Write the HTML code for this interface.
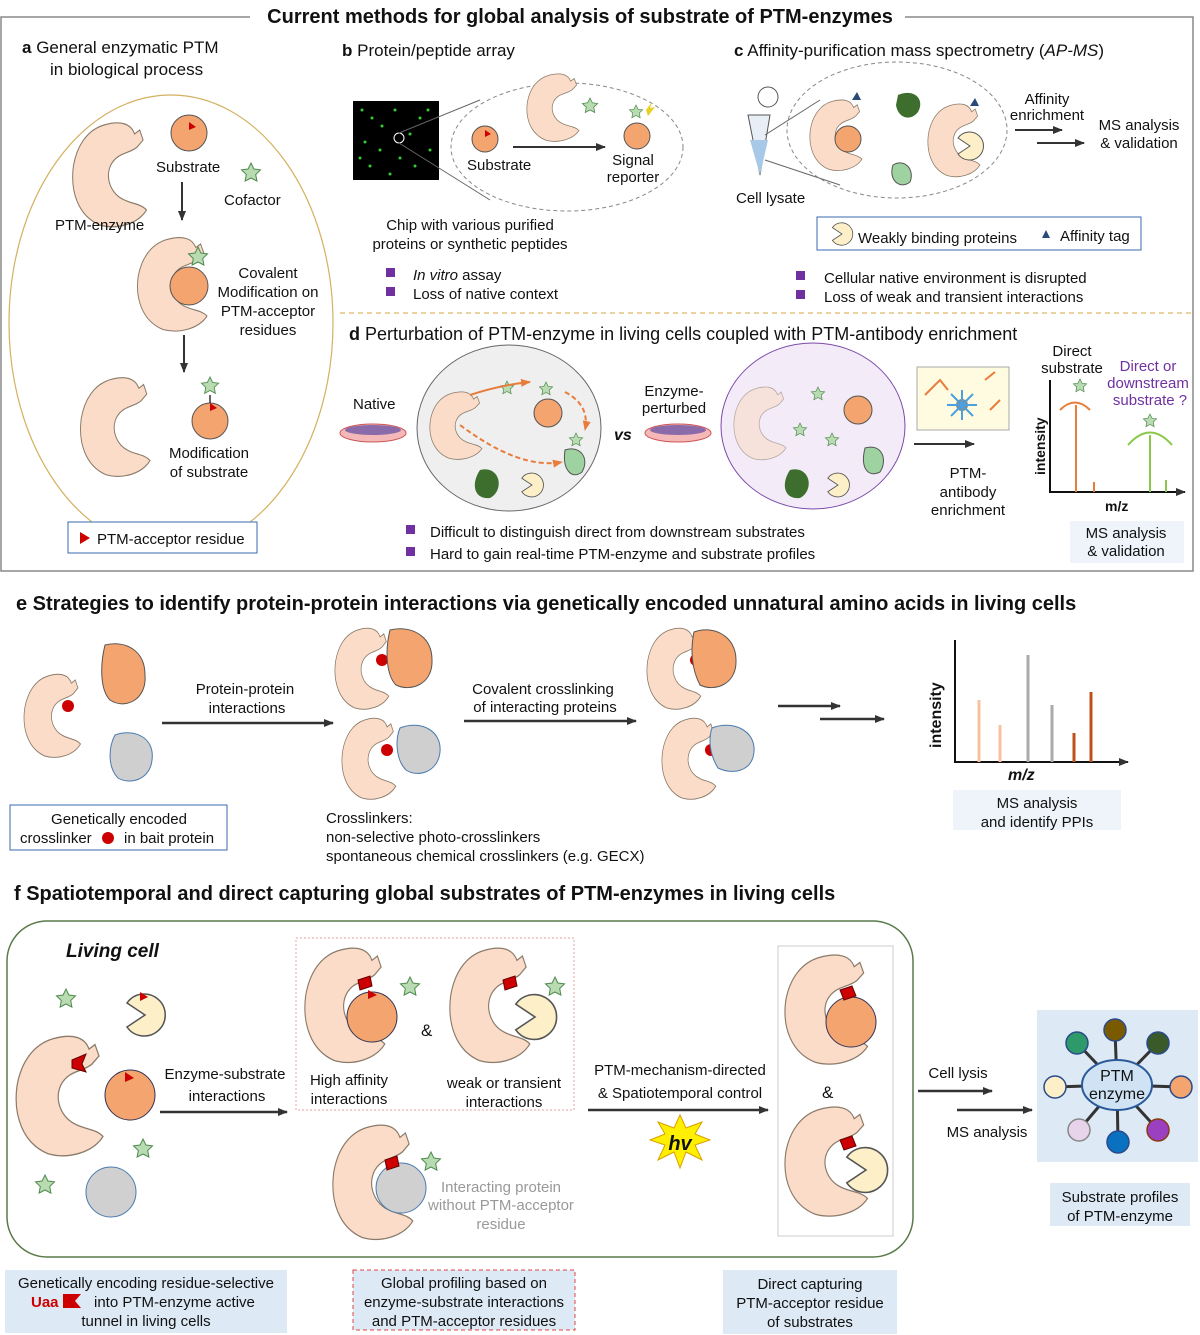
<!DOCTYPE html>
<html><head><meta charset="utf-8"><style>
html,body{margin:0;padding:0;background:#fff}
svg{display:block}
text{font-family:"Liberation Sans",Arial,sans-serif;fill:#111}
.b{font-weight:bold}
</style></head><body>
<svg width="1200" height="1335" viewBox="0 0 1200 1335" xmlns="http://www.w3.org/2000/svg">
<defs>
<path id="enz" d="M40,5 C60,0 72,4 76,14 L82,10 86,20 79,27 C70,34 56,32 48,45 C41,58 48,74 64,80 C74,84 84,84 90,90 C80,104 55,110 35,105 C10,96 0,72 4,46 C8,26 20,10 40,5 Z" fill="#fadcc8" stroke="#8a7a68" stroke-width="1.2"/>
<path id="star" d="M0,-10 L2.9,-4 9.5,-3.1 4.7,1.5 5.9,8.1 0,5 -5.9,8.1 -4.7,1.5 -9.5,-3.1 -2.9,-4 Z" fill="#b9dbb2" stroke="#4f8a4f" stroke-width="1"/>
<path id="pac" d="M0,0 L12,-8 A14,14 0 1 0 12,8 Z" fill="#fdf0c8" stroke="#555" stroke-width="1"/>
<marker id="ar" markerUnits="userSpaceOnUse" markerWidth="10" markerHeight="8" refX="9" refY="4" orient="auto"><path d="M0,0 L10,4 0,8 Z" fill="#333"/></marker>
<marker id="aro" markerUnits="userSpaceOnUse" markerWidth="10" markerHeight="8" refX="9" refY="4" orient="auto"><path d="M0,0 L10,4 0,8 Z" fill="#e87c3a"/></marker>
</defs>

<!-- top frame -->
<rect x="1" y="17" width="1192" height="554" fill="none" stroke="#888" stroke-width="1.5"/>
<rect x="250" y="5" width="655" height="24" fill="#fff"/>
<text x="580" y="23" text-anchor="middle" font-size="20" class="b">Current methods for global analysis of substrate of PTM-enzymes</text>
<line x1="340" y1="313" x2="1193" y2="313" stroke="#d9a640" stroke-dasharray="5,4"/>

<!-- panel a -->
<text x="22" y="53" font-size="17"><tspan class="b">a</tspan>  General enzymatic PTM</text>
<text x="50" y="75" font-size="17">in biological process</text>
<ellipse cx="171" cy="323" rx="162" ry="228" fill="none" stroke="#d4b060" stroke-width="1.2"/>
<use href="#enz" transform="translate(70,120) scale(0.85,1)"/>
<circle cx="189" cy="133" r="18" fill="#f4a46e" stroke="#555"/><path d="M189,122 l7,5 -7,3z" fill="#c00"/>
<text x="156" y="172" font-size="15">Substrate</text>
<use href="#star" transform="translate(251,173)"/>
<text x="224" y="205" font-size="15">Cofactor</text>
<text x="55" y="230" font-size="15">PTM-enzyme</text>
<line x1="182" y1="182" x2="182" y2="220" stroke="#333" stroke-width="2" marker-end="url(#ar)"/>
<use href="#enz" transform="translate(135,235) scale(0.8,0.9)"/>
<circle cx="189" cy="286" r="19" fill="#f4a46e" stroke="#555"/>
<use href="#star" transform="translate(198,257)"/>
<text x="268" y="278" font-size="15" text-anchor="middle">Covalent</text>
<text x="268" y="297" font-size="15" text-anchor="middle">Modification on</text>
<text x="268" y="316" font-size="15" text-anchor="middle">PTM-acceptor</text>
<text x="268" y="335" font-size="15" text-anchor="middle">residues</text>
<line x1="184" y1="335" x2="184" y2="372" stroke="#333" stroke-width="2" marker-end="url(#ar)"/>
<use href="#enz" transform="translate(78,375) scale(0.8,0.95)"/>
<circle cx="210" cy="421" r="18" fill="#f4a46e" stroke="#555"/>
<line x1="210" y1="395" x2="210" y2="403" stroke="#333" stroke-width="1.5"/><use href="#star" transform="translate(210,386) scale(0.9)"/>
<path d="M210,403 l7,5 -7,3z" fill="#c00"/>
<text x="209" y="458" font-size="15" text-anchor="middle">Modification</text>
<text x="209" y="477" font-size="15" text-anchor="middle">of substrate</text>
<rect x="68" y="522" width="189" height="31" fill="#fff" stroke="#3a6ab0"/>
<path d="M80,532 l10,6 -10,6z" fill="#c00"/>
<text x="97" y="544" font-size="15">PTM-acceptor residue</text>

<!-- panel b -->
<text x="342" y="56" font-size="17"><tspan class="b">b</tspan>  Protein/peptide array</text>
<rect x="353" y="101" width="86" height="79" fill="#000"/>
<g fill="#3c3">
<circle cx="362" cy="110" r="1.5"/><circle cx="372" cy="118" r="1.5"/><circle cx="382" cy="126" r="1.5"/><circle cx="395" cy="110" r="1.5"/><circle cx="410" cy="134" r="1.5"/><circle cx="420" cy="118" r="1.5"/><circle cx="365" cy="142" r="1.5"/><circle cx="380" cy="150" r="1.5"/><circle cx="400" cy="158" r="1.5"/><circle cx="415" cy="166" r="1.5"/><circle cx="430" cy="150" r="1.5"/><circle cx="370" cy="166" r="1.5"/><circle cx="390" cy="174" r="1.5"/><circle cx="428" cy="110" r="1.5"/><circle cx="360" cy="158" r="1.5"/>
</g>
<circle cx="399" cy="138" r="5" fill="none" stroke="#fff"/>
<line x1="399" y1="133" x2="480" y2="100" stroke="#666"/><line x1="399" y1="143" x2="490" y2="200" stroke="#666"/>
<ellipse cx="567" cy="147" rx="116" ry="64" fill="none" stroke="#888" stroke-dasharray="4,3"/>
<use href="#enz" transform="translate(525,72) scale(0.6,0.65)"/>
<use href="#star" transform="translate(590,106) scale(0.8)" style="fill:#2a9a5a"/>
<circle cx="485" cy="139" r="13" fill="#f4a46e" stroke="#555"/><path d="M485,130 l6,4 -6,3z" fill="#c00"/>
<text x="467" y="170" font-size="15">Substrate</text>
<line x1="513" y1="147" x2="605" y2="147" stroke="#333" stroke-width="2" marker-end="url(#ar)"/>
<circle cx="637" cy="136" r="13" fill="#f4a46e" stroke="#555"/><use href="#star" transform="translate(636,112) scale(0.7)"/>
<path d="M646,110 l6,-8 -2,6 5,-1 -7,9z" fill="#e8d020"/>
<text x="633" y="165" font-size="15" text-anchor="middle">Signal</text>
<text x="633" y="182" font-size="15" text-anchor="middle">reporter</text>
<text x="470" y="230" font-size="15" text-anchor="middle">Chip with various purified</text>
<text x="470" y="249" font-size="15" text-anchor="middle">proteins or synthetic peptides</text>
<rect x="386" y="268" width="9" height="9" fill="#7030a0"/><text x="413" y="280" font-size="15"><tspan font-style="italic">In vitro</tspan> assay</text>
<rect x="386" y="287" width="9" height="9" fill="#7030a0"/><text x="413" y="299" font-size="15">Loss of native context</text>

<!-- panel c -->
<text x="734" y="56" font-size="17"><tspan class="b">c</tspan>  Affinity-purification mass spectrometry (<tspan font-style="italic">AP-MS</tspan>)</text>
<path d="M748,115 L770,115 L760,175 Z" fill="#e8eef5" stroke="#555"/>
<path d="M750,140 L768,140 L760,175 Z" fill="#a8c8e8"/>
<circle cx="768" cy="97" r="10" fill="#fff" stroke="#555"/>
<text x="736" y="203" font-size="15">Cell lysate</text>
<line x1="765" y1="135" x2="820" y2="100" stroke="#666"/><line x1="765" y1="160" x2="840" y2="185" stroke="#666"/>
<ellipse cx="897" cy="130" rx="110" ry="68" fill="none" stroke="#888" stroke-dasharray="4,3"/>
<use href="#enz" transform="translate(808,98) scale(0.6,0.68)"/>
<circle cx="848" cy="139" r="13" fill="#f4a46e" stroke="#555"/>
<path d="M898,95 C915,88 925,100 918,112 C910,122 898,118 896,105Z" fill="#3d6e2e"/>
<use href="#enz" transform="translate(926,102) scale(0.6,0.7)"/>
<g transform="translate(970,146) rotate(180)"><use href="#pac"/></g>
<path d="M893,165 C905,158 915,170 910,182 C900,190 888,180 893,165Z" fill="#9ed2a0" stroke="#555"/>
<path d="M852,100 l5,-8 4,8z" fill="#2a4a7a"/><path d="M970,106 l5,-8 4,8z" fill="#2a4a7a"/>
<text x="1047" y="104" font-size="15" text-anchor="middle">Affinity</text>
<text x="1047" y="120" font-size="15" text-anchor="middle">enrichment</text>
<line x1="1015" y1="130" x2="1062" y2="130" stroke="#333" stroke-width="2" marker-end="url(#ar)"/>
<line x1="1037" y1="143" x2="1084" y2="143" stroke="#333" stroke-width="2" marker-end="url(#ar)"/>
<text x="1139" y="130" font-size="15" text-anchor="middle">MS analysis</text>
<text x="1139" y="148" font-size="15" text-anchor="middle">&amp; validation</text>
<rect x="817" y="217" width="324" height="33" fill="#fff" stroke="#3a6ab0"/>
<g transform="translate(842,234) rotate(180) scale(0.8)"><use href="#pac"/></g>
<text x="858" y="243" font-size="15">Weakly binding proteins</text>
<path d="M1042,238 l4,-8 4,8z" fill="#2a4a7a"/>
<text x="1060" y="241" font-size="15">Affinity tag</text>
<rect x="796" y="271" width="9" height="9" fill="#7030a0"/><text x="824" y="283" font-size="15">Cellular native environment is disrupted</text>
<rect x="796" y="290" width="9" height="9" fill="#7030a0"/><text x="824" y="302" font-size="15">Loss of weak and transient interactions</text>

<!-- panel d -->
<text x="349" y="340" font-size="18"><tspan class="b">d</tspan>  Perturbation of PTM-enzyme in living cells coupled with PTM-antibody enrichment</text>
<text x="353" y="409" font-size="15">Native</text>
<ellipse cx="373" cy="433" rx="33" ry="9" fill="#f4b8b8" stroke="#c55"/>
<ellipse cx="373" cy="430" rx="28" ry="5" fill="#8a6aa8"/>
<ellipse cx="509" cy="428" rx="92" ry="83" fill="#efefef" stroke="#666"/>
<use href="#enz" transform="translate(428,390) scale(0.6,0.65)"/>
<circle cx="548" cy="413" r="14" fill="#f4a46e" stroke="#555"/><use href="#star" transform="translate(546,389) scale(0.7)"/>
<use href="#star" transform="translate(507,388) scale(0.7)"/>
<path d="M470,395 Q500,385 530,382" stroke="#e87c3a" stroke-width="2" fill="none" marker-end="url(#aro)"/>
<path d="M460,425 Q520,470 562,462" stroke="#e87c3a" stroke-width="2" fill="none" stroke-dasharray="5,3" marker-end="url(#aro)"/>
<path d="M565,392 Q590,405 585,430" stroke="#e87c3a" stroke-width="2" fill="none" stroke-dasharray="5,3" marker-end="url(#aro)"/>
<path d="M565,450 C580,445 590,458 582,472 C572,480 562,470 565,450Z" fill="#9ed2a0" stroke="#555"/>
<use href="#star" transform="translate(576,440) scale(0.7)"/>
<path d="M480,470 C500,465 505,490 490,498 C475,500 470,485 480,470Z" fill="#3d6e2e"/>
<g transform="translate(532,485) rotate(180) scale(0.85)"><use href="#pac"/></g>
<text x="614" y="440" font-size="16" class="b" font-style="italic">vs</text>
<text x="674" y="396" font-size="15" text-anchor="middle">Enzyme-</text>
<text x="674" y="413" font-size="15" text-anchor="middle">perturbed</text>
<ellipse cx="678" cy="433" rx="33" ry="9" fill="#f4b8b8" stroke="#c55"/>
<ellipse cx="678" cy="430" rx="28" ry="5" fill="#8a6aa8"/>
<ellipse cx="813" cy="426" rx="92" ry="83" fill="#f3ebf8" stroke="#7a4aa8"/>
<use href="#enz" transform="translate(732,385) scale(0.6,0.7)" opacity="0.6"/>
<circle cx="858" cy="410" r="14" fill="#f4a46e" stroke="#555"/>
<use href="#star" transform="translate(818,394) scale(0.7)"/><use href="#star" transform="translate(800,430) scale(0.7)"/><use href="#star" transform="translate(832,440) scale(0.7)"/>
<path d="M865,448 C882,443 888,460 880,472 C868,478 860,468 865,448Z" fill="#9ed2a0" stroke="#555"/>
<path d="M790,470 C810,465 815,490 800,498 C785,500 780,485 790,470Z" fill="#3d6e2e"/>
<g transform="translate(838,485) rotate(180) scale(0.85)"><use href="#pac"/></g>
<rect x="917" y="367" width="92" height="63" fill="#fffbe0" stroke="#aaa"/>
<path d="M925,395 L940,380 L948,390 M985,380 L995,372 M1000,400 L990,410" stroke="#e87c3a" stroke-width="2" fill="none"/>
<circle cx="962" cy="405" r="6" fill="#888"/><path d="M962,390 V420 M947,405 H977 M951,394 L973,416 M973,394 L951,416" stroke="#4aa0e0" stroke-width="2"/>
<line x1="914" y1="444" x2="974" y2="444" stroke="#333" stroke-width="2" marker-end="url(#ar)"/>
<text x="968" y="478" font-size="15" text-anchor="middle">PTM-</text>
<text x="968" y="497" font-size="15" text-anchor="middle">antibody</text>
<text x="968" y="515" font-size="15" text-anchor="middle">enrichment</text>
<text x="1072" y="356" font-size="15" text-anchor="middle">Direct</text>
<text x="1072" y="373" font-size="15" text-anchor="middle">substrate</text>
<text x="1148" y="371" font-size="15" text-anchor="middle" style="fill:#7030a0">Direct or</text>
<text x="1148" y="388" font-size="15" text-anchor="middle" style="fill:#7030a0">downstream</text>
<text x="1150" y="405" font-size="15" text-anchor="middle" style="fill:#7030a0">substrate ?</text>
<path d="M1050,380 V492 H1185" stroke="#111" stroke-width="2" fill="none" marker-end="url(#ar)"/>
<text transform="translate(1045,475) rotate(-90)" font-size="14" class="b">intensity</text>
<text x="1105" y="511" font-size="14" class="b">m/z</text>
<path d="M1060,410 Q1075,395 1090,410" stroke="#e87c3a" stroke-width="2" fill="none"/>
<use href="#star" transform="translate(1080,386) scale(0.7)"/>
<line x1="1076" y1="405" x2="1076" y2="492" stroke="#e87c3a" stroke-width="2"/>
<line x1="1094" y1="482" x2="1094" y2="492" stroke="#e87c3a" stroke-width="2"/>
<path d="M1128,445 Q1150,420 1172,445" stroke="#8ac84a" stroke-width="2" fill="none"/>
<use href="#star" transform="translate(1150,421) scale(0.7)"/>
<line x1="1150" y1="435" x2="1150" y2="492" stroke="#8ac84a" stroke-width="2"/>
<line x1="1166" y1="480" x2="1166" y2="492" stroke="#8ac84a" stroke-width="2"/>
<rect x="1070" y="521" width="114" height="42" fill="#eef4fa"/>
<text x="1126" y="538" font-size="15" text-anchor="middle">MS analysis</text>
<text x="1126" y="556" font-size="15" text-anchor="middle">&amp; validation</text>
<rect x="406" y="525" width="9" height="9" fill="#7030a0"/><text x="430" y="537" font-size="15">Difficult to distinguish direct from downstream substrates</text>
<rect x="406" y="547" width="9" height="9" fill="#7030a0"/><text x="430" y="559" font-size="15">Hard to gain real-time PTM-enzyme and substrate profiles</text>

<!-- panel e -->
<text x="16" y="610" font-size="20" class="b">e  Strategies to identify protein-protein interactions via genetically encoded unnatural amino acids in living cells</text>
<use href="#enz" transform="translate(22,672) scale(0.65,0.8)"/>
<circle cx="68" cy="706" r="6" fill="#c00"/>
<path d="M105,645 C125,640 145,650 145,675 C147,700 125,710 110,700 C100,690 100,665 105,645Z" fill="#f4a46e" stroke="#555"/>
<path d="M115,735 C135,728 155,738 152,760 C150,780 130,785 118,778 C108,768 108,748 115,735Z" fill="#cfcfcf" stroke="#4a7ab0"/>
<text x="245" y="694" font-size="15" text-anchor="middle">Protein-protein</text>
<text x="247" y="713" font-size="15" text-anchor="middle">interactions</text>
<line x1="162" y1="723" x2="333" y2="723" stroke="#333" stroke-width="2.5" marker-end="url(#ar)"/>
<use href="#enz" transform="translate(333,626) scale(0.62,0.78)"/>
<circle cx="382" cy="660" r="6" fill="#c00"/>
<path d="M390,630 C410,625 432,635 432,660 C433,685 410,692 396,685 C386,675 385,650 390,630Z" fill="#f4a46e" stroke="#555"/>
<use href="#enz" transform="translate(340,716) scale(0.62,0.78)"/>
<circle cx="387" cy="750" r="6" fill="#c00"/>
<path d="M400,728 C420,720 442,730 440,752 C438,772 418,778 406,770 C396,760 395,740 400,728Z" fill="#cfcfcf" stroke="#4a7ab0"/>
<text x="543" y="694" font-size="15" text-anchor="middle">Covalent crosslinking</text>
<text x="545" y="712" font-size="15" text-anchor="middle">of interacting proteins</text>
<line x1="464" y1="721" x2="636" y2="721" stroke="#333" stroke-width="2.5" marker-end="url(#ar)"/>
<use href="#enz" transform="translate(645,626) scale(0.62,0.78)"/>
<circle cx="696" cy="660" r="6" fill="#c00"/>
<path d="M694,632 C712,625 736,635 736,660 C737,685 714,692 700,685 C692,670 690,650 694,632Z" fill="#f4a46e" stroke="#555"/>
<use href="#enz" transform="translate(660,716) scale(0.62,0.78)"/>
<circle cx="711" cy="750" r="6" fill="#c00"/>
<path d="M712,728 C732,720 756,730 754,752 C752,772 732,775 718,768 C710,755 708,740 712,728Z" fill="#cfcfcf" stroke="#4a7ab0"/>
<line x1="778" y1="706" x2="840" y2="706" stroke="#333" stroke-width="2.5" marker-end="url(#ar)"/>
<line x1="820" y1="719" x2="884" y2="719" stroke="#333" stroke-width="2.5" marker-end="url(#ar)"/>
<path d="M955,640 V762 H1128" stroke="#111" stroke-width="2" fill="none" marker-end="url(#ar)"/>
<text transform="translate(941,748) rotate(-90)" font-size="16" class="b">intensity</text>
<text x="1008" y="780" font-size="16" class="b" font-style="italic">m/z</text>
<g stroke-width="3"><line x1="979" y1="700" x2="979" y2="762" stroke="#f8c0a0"/><line x1="1000" y1="725" x2="1000" y2="762" stroke="#f8c0a0"/><line x1="1028" y1="655" x2="1028" y2="762" stroke="#aaa"/><line x1="1052" y1="705" x2="1052" y2="762" stroke="#aaa"/><line x1="1074" y1="733" x2="1074" y2="762" stroke="#c0501a"/><line x1="1091" y1="692" x2="1091" y2="762" stroke="#c0501a"/></g>
<rect x="953" y="790" width="168" height="40" fill="#eef4fa"/>
<text x="1037" y="808" font-size="15" text-anchor="middle">MS analysis</text>
<text x="1037" y="827" font-size="15" text-anchor="middle">and identify PPIs</text>
<rect x="10" y="805" width="217" height="45" fill="#fff" stroke="#3a6ab0"/>
<text x="119" y="824" font-size="15" text-anchor="middle">Genetically encoded</text>
<text x="20" y="843" font-size="15">crosslinker</text><circle cx="108" cy="838" r="6" fill="#c00"/><text x="124" y="843" font-size="15">in bait protein</text>
<text x="326" y="823" font-size="15">Crosslinkers:</text>
<text x="326" y="842" font-size="15">non-selective photo-crosslinkers</text>
<text x="326" y="861" font-size="15">spontaneous chemical crosslinkers (e.g. GECX)</text>

<!-- panel f -->
<text x="14" y="900" font-size="20" class="b">f  Spatiotemporal and direct capturing global substrates of PTM-enzymes in living cells</text>
<rect x="7" y="921" width="906" height="336" rx="40" fill="none" stroke="#5a7a4a" stroke-width="1.5"/>
<text x="66" y="957" font-size="19" class="b" font-style="italic">Living cell</text>
<use href="#star" transform="translate(66,999)"/><use href="#star" transform="translate(143,1149)"/><use href="#star" transform="translate(45,1185)"/>
<g transform="translate(145,1015) rotate(180) scale(1.5)"><use href="#pac"/></g><path d="M140,992 l8,5 -8,4z" fill="#c00"/>
<use href="#enz" transform="translate(13,1033) scale(1,1.15)"/>
<path d="M72,1060 l14,-6 -4,10 4,8 -14,-4z" fill="#c00" stroke="#600"/>
<circle cx="130" cy="1095" r="25" fill="#f4a46e" stroke="#335"/><path d="M125,1072 l9,6 -9,4z" fill="#c00"/>
<circle cx="111" cy="1192" r="25" fill="#d0d0d0" stroke="#4a7ab0"/>
<text x="225" y="1079" font-size="15" text-anchor="middle">Enzyme-substrate</text>
<text x="227" y="1101" font-size="15" text-anchor="middle">interactions</text>
<line x1="160" y1="1112" x2="287" y2="1112" stroke="#333" stroke-width="2.5" marker-end="url(#ar)"/>
<rect x="296" y="938" width="278" height="172" fill="none" stroke="#e8a0a0" stroke-dasharray="2,2"/>
<use href="#enz" transform="translate(302,945) scale(0.92,1.1)"/>
<circle cx="372" cy="1017" r="25" fill="#f4a46e" stroke="#335"/>
<path d="M358,980 l12,-4 2,10 -12,4z" fill="#c00" stroke="#600"/><path d="M368,990 l9,5 -9,4z" fill="#c00"/>
<use href="#star" transform="translate(410,987)"/>
<text x="421" y="1036" font-size="17">&amp;</text>
<use href="#enz" transform="translate(447,945) scale(0.92,1.1)"/>
<g transform="translate(535,1017) rotate(180) scale(1.6)"><use href="#pac"/></g>
<path d="M503,980 l12,-4 2,10 -12,4z" fill="#c00" stroke="#600"/>
<use href="#star" transform="translate(555,987)"/>
<text x="349" y="1085" font-size="15" text-anchor="middle">High affinity</text>
<text x="349" y="1104" font-size="15" text-anchor="middle">interactions</text>
<text x="504" y="1088" font-size="15" text-anchor="middle">weak or transient</text>
<text x="504" y="1107" font-size="15" text-anchor="middle">interactions</text>
<use href="#enz" transform="translate(330,1122) scale(0.92,1.1)"/>
<circle cx="401" cy="1188" r="25" fill="#d0d0d0" stroke="#4a7ab0"/>
<path d="M385,1160 l12,-4 2,10 -12,4z" fill="#c00" stroke="#600"/>
<use href="#star" transform="translate(431,1162)"/>
<text x="501" y="1192" font-size="15" text-anchor="middle" style="fill:#999">Interacting protein</text>
<text x="501" y="1210" font-size="15" text-anchor="middle" style="fill:#999">without PTM-acceptor</text>
<text x="501" y="1229" font-size="15" text-anchor="middle" style="fill:#999">residue</text>
<text x="680" y="1075" font-size="15" text-anchor="middle">PTM-mechanism-directed</text>
<text x="680" y="1098" font-size="15" text-anchor="middle">&amp; Spatiotemporal control</text>
<line x1="588" y1="1110" x2="768" y2="1110" stroke="#333" stroke-width="2.5" marker-end="url(#ar)"/>
<path d="M680,1115 L686,1128 702,1122 695,1134 710,1140 695,1145 702,1160 686,1152 680,1168 674,1152 658,1160 665,1145 650,1140 665,1134 658,1122 674,1128Z" fill="#ffef00" stroke="#d9a000"/>
<text x="680" y="1150" font-size="20" class="b" font-style="italic" text-anchor="middle">hv</text>
<rect x="778" y="946" width="115" height="290" fill="none" stroke="#ccc"/>
<use href="#enz" transform="translate(782,952) scale(0.95,1.05)"/>
<circle cx="851" cy="1022" r="25" fill="#f4a46e" stroke="#335"/>
<path d="M840,990 l12,-4 4,10 -12,4z" fill="#c00" stroke="#600"/>
<text x="822" y="1098" font-size="17">&amp;</text>
<use href="#enz" transform="translate(782,1104) scale(0.95,1.05)"/>
<g transform="translate(866,1170) rotate(180) scale(1.6)"><use href="#pac"/></g>
<path d="M840,1140 l12,-4 4,10 -12,4z" fill="#c00" stroke="#600"/>
<text x="958" y="1078" font-size="15" text-anchor="middle">Cell lysis</text>
<line x1="918" y1="1091" x2="992" y2="1091" stroke="#333" stroke-width="2.5" marker-end="url(#ar)"/>
<line x1="957" y1="1110" x2="1032" y2="1110" stroke="#333" stroke-width="2.5" marker-end="url(#ar)"/>
<text x="987" y="1137" font-size="15" text-anchor="middle">MS analysis</text>
<rect x="1037" y="1010" width="161" height="152" fill="#dde9f5"/>
<g stroke="#333" stroke-width="3">
<line x1="1117" y1="1085" x2="1115" y2="1030"/><line x1="1117" y1="1085" x2="1077" y2="1043"/><line x1="1117" y1="1085" x2="1158" y2="1043"/><line x1="1117" y1="1085" x2="1055" y2="1087"/><line x1="1117" y1="1085" x2="1181" y2="1087"/><line x1="1117" y1="1085" x2="1079" y2="1130"/><line x1="1117" y1="1085" x2="1118" y2="1142"/><line x1="1117" y1="1085" x2="1158" y2="1130"/>
</g>
<g stroke="#2a4a8a" stroke-width="1.5">
<circle cx="1115" cy="1030" r="11" fill="#7a5a00"/><circle cx="1077" cy="1043" r="11" fill="#2e9a6a"/><circle cx="1158" cy="1043" r="11" fill="#3a5a2a"/><circle cx="1055" cy="1087" r="11" fill="#fdf0c8"/><circle cx="1181" cy="1087" r="11" fill="#f4a46e"/><circle cx="1079" cy="1130" r="11" fill="#e8d4ea" stroke="#888"/><circle cx="1118" cy="1142" r="11" fill="#0a70c0"/><circle cx="1158" cy="1130" r="11" fill="#9a40c0" stroke="#8a3a10"/>
</g>
<ellipse cx="1117" cy="1085" rx="35" ry="25" fill="#cfe3f5" stroke="#2a5a9a" stroke-width="2"/>
<text x="1117" y="1081" font-size="16" text-anchor="middle">PTM</text>
<text x="1117" y="1099" font-size="16" text-anchor="middle">enzyme</text>
<rect x="1050" y="1183" width="140" height="43" fill="#dde9f5"/>
<text x="1120" y="1202" font-size="15" text-anchor="middle">Substrate profiles</text>
<text x="1120" y="1221" font-size="15" text-anchor="middle">of PTM-enzyme</text>
<rect x="5" y="1270" width="282" height="63" fill="#dde9f5"/>
<text x="146" y="1288" font-size="15" text-anchor="middle">Genetically encoding residue-selective</text>
<text x="31" y="1307" font-size="15" class="b" style="fill:#c00">Uaa</text><path d="M63,1294 l18,0 -6,7 6,7 -18,0z" fill="#c00"/>
<text x="94" y="1307" font-size="15">into PTM-enzyme active</text>
<text x="146" y="1326" font-size="15" text-anchor="middle">tunnel in living cells</text>
<rect x="353" y="1270" width="222" height="60" fill="#dde9f5" stroke="#d44" stroke-dasharray="4,3"/>
<text x="464" y="1288" font-size="15" text-anchor="middle">Global profiling based on</text>
<text x="464" y="1307" font-size="15" text-anchor="middle">enzyme-substrate interactions</text>
<text x="464" y="1326" font-size="15" text-anchor="middle">and PTM-acceptor residues</text>
<rect x="723" y="1270" width="174" height="64" fill="#dde9f5"/>
<text x="810" y="1289" font-size="15" text-anchor="middle">Direct capturing</text>
<text x="810" y="1308" font-size="15" text-anchor="middle">PTM-acceptor residue</text>
<text x="810" y="1327" font-size="15" text-anchor="middle">of substrates</text>
</svg>
</body></html>
